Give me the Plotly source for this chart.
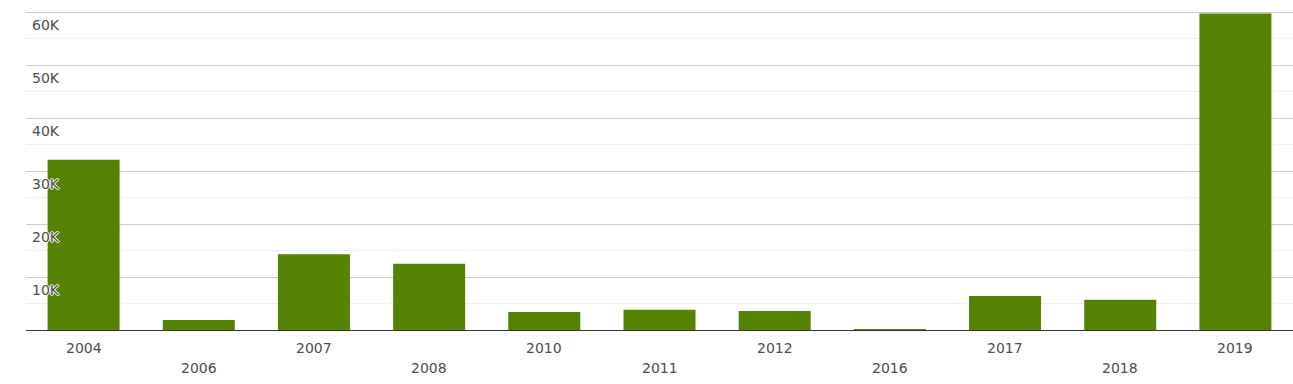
import plotly.graph_objects as go

years = ["2004", "2006", "2007", "2008", "2010", "2011", "2012", "2016", "2017", "2018", "2019"]
values = [32100, 1900, 14300, 12500, 3400, 3800, 3600, 150, 6400, 5700, 59700]
tick_vals = [10000, 20000, 30000, 40000, 50000, 60000]
tick_text = ["10K", "20K", "30K", "40K", "50K", "60K"]

bar_color = "#548203"
text_color = "#4d4d4d"
font_family = "DejaVu Sans, sans-serif"

fig = go.Figure()
fig.add_trace(go.Bar(x=years, y=values, marker=dict(color=bar_color, line=dict(width=0)),
                     hoverinfo="x+y"))

fig.update_layout(
    width=1293, height=384,
    margin=dict(l=26, r=0, t=10, b=54),
    plot_bgcolor="white", paper_bgcolor="white",
    bargap=0.375,
    showlegend=False,
    font=dict(family=font_family, size=14, color=text_color),
    xaxis=dict(type="category", categoryorder="array", categoryarray=years,
               range=[-0.5, len(years) - 0.5], showticklabels=False,
               showgrid=False, showline=True, linecolor="#333333", linewidth=1,
               ticks=""),
    yaxis=dict(range=[0, 60000 * 320 / 318], tickvals=tick_vals, showticklabels=False,
               showgrid=True, gridcolor="#cccccc", gridwidth=1,
               minor=dict(dtick=5000, showgrid=True, gridcolor="#eeeeee", gridwidth=1),
               zeroline=False, fixedrange=True),
)

shadow = "1px 0px 0px white, -1px 0px 0px white, 0px 1px 0px white, 0px -1px 0px white"
for v, t in zip(tick_vals, tick_text):
    fig.add_annotation(x=0, xref="paper", y=v, yref="y", text=t, showarrow=False,
                       xanchor="left", yanchor="middle", xshift=4, yshift=-13,
                       font=dict(size=14, color=text_color, family=font_family, shadow=shadow))

for i, yr in enumerate(years):
    fig.add_annotation(x=i, xref="x", y=0, yref="paper", text=yr, showarrow=False,
                       xanchor="center", yanchor="middle",
                       yshift=-18 if i % 2 == 0 else -38,
                       font=dict(size=14, color=text_color, family=font_family))

fig.write_html("out.html")
